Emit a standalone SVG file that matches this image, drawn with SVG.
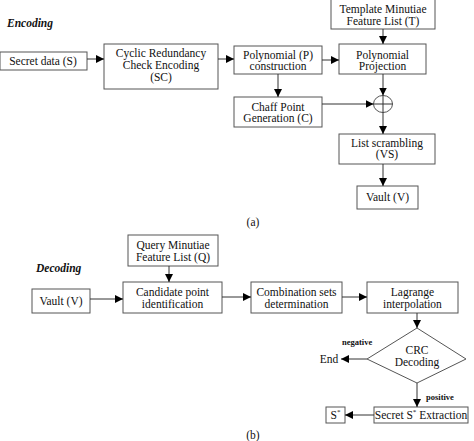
<svg xmlns="http://www.w3.org/2000/svg" width="474" height="441" viewBox="0 0 474 441">
<defs>
<marker id="ah" viewBox="0 0 10 10" refX="10" refY="5" markerWidth="8" markerHeight="8" markerUnits="userSpaceOnUse" orient="auto">
<path d="M0,0 L10,5 L0,10 Z" fill="#000"/>
</marker>
</defs>
<style>
.n rect,.n polygon,.n ellipse{fill:#fff;stroke:#555;stroke-width:1}
text{font-family:"Liberation Serif","Times New Roman",serif;font-size:11.5px;fill:#111;text-anchor:middle}
.it{font-style:italic;font-weight:bold;text-anchor:start}
.sm{font-size:8.5px;font-weight:bold;text-anchor:start}
.c line{stroke:#333;stroke-width:1;fill:none}
.a{marker-end:url(#ah)}
</style>
<rect width="474" height="441" fill="#fff"/>
<text class="it" x="7" y="27">Encoding</text>
<g class="n" id="secret"><rect x="0" y="52" width="87" height="18"/><text x="43" y="65">Secret data (S)</text></g>
<g class="n" id="crc"><rect x="104" y="44" width="114" height="45"/><text x="161" y="57">Cyclic Redundancy</text><text x="161" y="69">Check Encoding</text><text x="161" y="81">(SC)</text></g>
<g class="n" id="template"><rect x="331" y="-1" width="104" height="30"/><text x="383" y="13">Template Minutiae</text><text x="383" y="25">Feature List (T)</text></g>
<g class="n" id="polyP"><rect x="234" y="46" width="88" height="28"/><text x="278" y="58.5">Polynomial (P)</text><text x="278" y="69.5">construction</text></g>
<g class="n" id="polyProj"><rect x="339" y="44" width="87" height="30"/><text x="382.5" y="58.5">Polynomial</text><text x="382.5" y="69.5">Projection</text></g>
<g class="n" id="chaff"><rect x="234" y="97" width="88" height="30"/><text x="278" y="110.5">Chaff Point</text><text x="278" y="121.5">Generation (C)</text></g>
<g class="n" id="xor"><ellipse cx="383" cy="104" rx="9.5" ry="8.5"/><line x1="373.5" y1="104" x2="392.5" y2="104" stroke="#333"/><line x1="383" y1="95.5" x2="383" y2="112.5" stroke="#333"/></g>
<g class="n" id="scramble"><rect x="339" y="134" width="96" height="30"/><text x="387" y="147">List scrambling</text><text x="387" y="158">(VS)</text></g>
<g class="n" id="vault"><rect x="357" y="186" width="61" height="23"/><text x="387.5" y="200.5">Vault (V)</text></g>
<text x="253" y="226">(a)</text>
<text class="it" x="36" y="272">Decoding</text>
<g class="n" id="query"><rect x="128" y="235" width="90" height="31"/><text x="173" y="249">Query Minutiae</text><text x="173" y="260.5">Feature List (Q)</text></g>
<g class="n" id="vaultB"><rect x="32" y="289" width="58" height="24"/><text x="61" y="305">Vault (V)</text></g>
<g class="n" id="candidate"><rect x="123" y="282" width="99" height="31"/><text x="172.5" y="296">Candidate point</text><text x="172.5" y="307.5">identification</text></g>
<g class="n" id="combination"><rect x="251" y="282" width="91" height="31"/><text x="296.5" y="296">Combination sets</text><text x="296.5" y="307.5">determination</text></g>
<g class="n" id="lagrange"><rect x="367" y="282" width="91" height="31"/><text x="412.5" y="296">Lagrange</text><text x="412.5" y="307.5">interpolation</text></g>
<g class="n" id="crcdec"><polygon points="417,328 466,359 417,383 367,359"/><text x="417" y="354">CRC</text><text x="417" y="366">Decoding</text></g>
<g class="n" id="end"><text x="329" y="363">End</text></g>
<g class="n" id="extract"><rect x="374" y="407" width="94" height="16"/><text x="421" y="419">Secret S<tspan font-size="7" dy="-5">*</tspan><tspan dy="5"> Extraction</tspan></text></g>
<g class="n" id="sstar"><rect x="326" y="407" width="19" height="16"/><text x="335.5" y="419">S<tspan font-size="7" dy="-5">*</tspan></text></g>
<text x="253" y="439">(b)</text>
<g class="c" id="connectors">
<line class="a" x1="87" y1="59" x2="104" y2="59"/>
<line class="a" x1="218" y1="59" x2="234" y2="59"/>
<line class="a" x1="383" y1="29" x2="383" y2="44"/>
<line class="a" x1="322" y1="60" x2="339" y2="60"/>
<line class="a" x1="383" y1="74" x2="383" y2="95.5"/>
<line class="a" x1="278" y1="74" x2="278" y2="97"/>
<line class="a" x1="322" y1="104" x2="373.5" y2="104"/>
<line class="a" x1="383" y1="112.5" x2="383" y2="134"/>
<line class="a" x1="383" y1="164" x2="383" y2="186"/>
<line class="a" x1="169" y1="266" x2="169" y2="282"/>
<line class="a" x1="90" y1="299" x2="123" y2="299"/>
<line class="a" x1="222" y1="297" x2="251" y2="297"/>
<line class="a" x1="342" y1="297" x2="367" y2="297"/>
<line class="a" x1="417" y1="313" x2="417" y2="328"/>
<line class="a" x1="367" y1="359" x2="341" y2="359"/>
<line class="a" x1="417" y1="383" x2="417" y2="407"/>
<line class="a" x1="374" y1="415" x2="345" y2="415"/>
</g>
<text class="sm" x="342" y="345">negative</text>
<text class="sm" x="426" y="400">positive</text>
</svg>
